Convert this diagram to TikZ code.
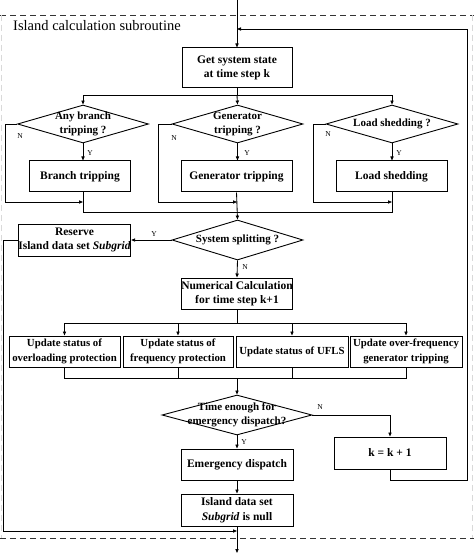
\documentclass[tikz,border=0pt]{standalone}
\usepackage{fontspec}
\setmainfont{Liberation Serif}
\usetikzlibrary{arrows.meta,shapes.geometric,calc}
\begin{document}
\begin{tikzpicture}[x=1pt,y=-1pt,
  box/.style={draw,line width=1pt,minimum width=#1,minimum height=31pt,inner sep=0pt,align=center,
    font=\bfseries\fontsize{11.5}{14.5}\selectfont},
  ubox/.style={draw,line width=1pt,minimum width=#1,minimum height=31pt,inner sep=0pt,align=center,
    font=\bfseries\fontsize{10.8}{14.5}\selectfont},
  dia/.style n args={2}{draw,diamond,line width=0.9pt,minimum width=#1,minimum height=#2,inner sep=0pt},
  dtext/.style={align=center,inner sep=0pt,font=\bfseries\fontsize{11}{14.5}\selectfont},
  conn/.style={line width=0.85pt},
  arr/.style={conn,-{Triangle[length=4pt,width=3.2pt]}},
  lab/.style={font=\fontsize{7.5}{8}\selectfont,inner sep=0pt},
  border/.style={dashed,dash pattern=on 6pt off 4pt,line width=0.8pt}
]
\useasboundingbox (0,0) rectangle (474,553);
% dashed frame
\draw[border,black!80] (0,15) -- (474,15);
\draw[border,black!80] (0,538) -- (474,538);
\draw[border,black!15] (1.5,15) -- (1.5,538);
\draw[border,black!15] (472.5,15) -- (472.5,538);
\node[anchor=base west,inner sep=0pt,font=\fontsize{14.5}{16}\selectfont] (title) at (13,31) {Island calculation subroutine};

% nodes
\coordinate (top) at (237,0);
\coordinate (bot) at (237,553);
\node[box=110pt,minimum height=40pt] (get) at (237,68) {Get system state\\at time step k};
\node[dia={131pt}{38pt}] (d1) at (83,124) {};
\node[dtext] at (d1) {Any branch\\tripping ?};
\node[dia={131pt}{38pt}] (d2) at (237.5,124) {};
\node[dtext] at (d2) {Generator\\tripping ?};
\node[dia={132pt}{38pt}] (d3) at (392,124) {};
\node[dtext] at (d3) {Load shedding ?};
\node[box=101pt] (b1) at (80,176.5) {Branch tripping};
\node[box=111pt] (b2) at (236.5,176.5) {Generator tripping};
\node[box=111pt] (b3) at (391.5,176.5) {Load shedding};
\node[dia={131pt}{40pt}] (sp) at (237.5,240) {};
\node[dtext] at (sp) {System splitting ?};
\node[box=111pt,minimum height=32pt] (res) at (74.5,240) {Reserve\\Island data set \textit{Subgrid}};
\node[box=110pt] (num) at (237,293.5) {Numerical Calculation\\for time step k+1};
\node[ubox=111pt] (u1) at (64.5,351.5) {Update status of\\overloading protection};
\node[ubox=110pt] (u2) at (178,351.5) {Update status of\\frequency protection};
\node[ubox=112pt] (u3) at (292,351.5) {Update status of UFLS};
\node[ubox=112pt] (u4) at (406,351.5) {Update over-frequency\\generator tripping};
\node[dia={150pt}{40pt}] (te) at (237,415) {};
\node[dtext] at (te) {Time enough for\\emergency dispatch?};
\node[box=112pt,minimum height=32pt] (kk) at (390,453) {k = k + 1};
\node[box=112pt] (em) at (237,464.5) {Emergency dispatch};
\node[box=112pt,minimum height=32pt] (isl) at (237,510) {Island data set\\\textit{Subgrid} is null};

% junction coordinates
\coordinate (bus1) at (237,95);
\coordinate (m1) at (83,202);
\coordinate (m2) at (237,202);
\coordinate (m3) at (392,202);
\coordinate (bus2) at (237,323);
\coordinate (bus3) at (237,378);
\coordinate (fb) at (237,29);
\coordinate (ret) at (237,531);

% connectors
\draw[arr] (top) -- (get.north);
\draw[conn] (get.south) -- (bus1);
\draw[arr] (bus1) -| (d1.north);
\draw[arr] (bus1) -| (d3.north);
\draw[arr] (bus1) -- (d2.north);
\draw[arr] (d1.south) -- (b1.north -| d1.south);
\draw[arr] (d2.south) -- (b2.north -| d2.south);
\draw[arr] (d3.south) -- (b3.north -| d3.south);
\draw[arr] (d1.west) -- ++(-12,0) |- (m1);
\draw[arr] (d2.west) -- ++(-13,0) |- (m2);
\draw[arr] (d3.west) -- ++(-12,0) |- (m3);
\draw[conn] (b1.south -| d1.south) -- (83,212) -- (392,212) -- (b3.south -| d3.south);
\draw[arr] (b2.south) -- (sp.north);
\draw[arr] (sp.west) -- (res.east);
\draw[arr] (res.west) -- ++(-14,0) |- (ret);
\draw[arr] (sp.south) -- (num.north);
\draw[conn] (num.south) -- (bus2);
\draw[arr] (bus2) -| (u1.north);
\draw[arr] (bus2) -| (u2.north);
\draw[arr] (bus2) -| (u3.north);
\draw[arr] (bus2) -| (u4.north);
\draw[conn] (u1.south) |- (bus3);
\draw[conn] (u2.south) |- (bus3);
\draw[conn] (u3.south) |- (bus3);
\draw[conn] (u4.south) |- (bus3);
\draw[arr] (bus3) -- (te.north);
\draw[arr] (te.east) -| (kk.north);
\draw[arr] (te.south) -- (em.north);
\draw[arr] (em.south) -- (isl.north);
\draw[arr] (isl.south) -- (bot);
\draw[arr] (kk.south) -- ++(0,11) -| (467,29) -- (fb);

% Y/N labels
\node[lab] at (20,136) {N};
\node[lab] at (90,153) {Y};
\node[lab] at (174,138) {N};
\node[lab] at (247,153) {Y};
\node[lab] at (328,134) {N};
\node[lab] at (399,153) {Y};
\node[lab] at (154,234) {Y};
\node[lab] at (245,267) {N};
\node[lab] at (320,407) {N};
\node[lab] at (244,442) {Y};
\end{tikzpicture}
\end{document}
